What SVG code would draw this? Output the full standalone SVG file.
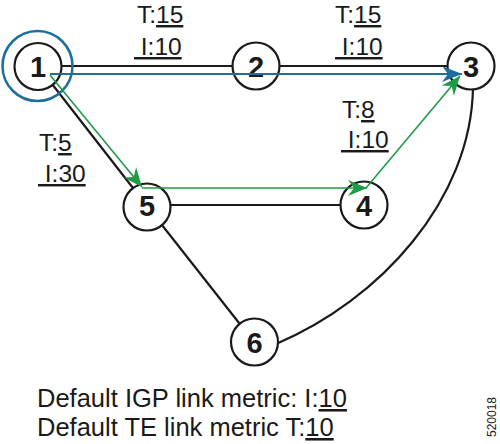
<svg xmlns="http://www.w3.org/2000/svg" width="500" height="444" viewBox="0 0 500 444">
<style>
.link{stroke:#1a1a1a;stroke-width:2.2;fill:none}
.node{fill:#fff;stroke:#1a1a1a;stroke-width:2.2}
.num{font-family:"Liberation Sans",Arial,sans-serif;font-weight:bold;font-size:29px;text-anchor:middle;fill:#1a1a1a}
.lbl{font-family:"Liberation Sans",Arial,sans-serif;font-size:24.5px;fill:#1a1a1a;white-space:pre}
.foot{font-family:"Liberation Sans",Arial,sans-serif;font-size:25.5px;fill:#1a1a1a;white-space:pre}
.u{text-decoration:underline}
.blue{stroke:#1c6e9c;stroke-width:2;fill:none}
.green{stroke:#1f9a46;stroke-width:1.6;fill:none}
</style>
<defs>
<marker id="ab" markerUnits="userSpaceOnUse" markerWidth="24" markerHeight="20" viewBox="-22 -10 24 20" refX="0" refY="0" orient="auto">
<path d="M0,0 L-20,-8 L-14,0 L-20,8 Z" fill="#1c6e9c"/>
</marker>
<marker id="ag" markerUnits="userSpaceOnUse" markerWidth="24" markerHeight="20" viewBox="-22 -10 24 20" refX="0" refY="0" orient="auto">
<path d="M0,0 L-19,-8 L-13,0 L-19,8 Z" fill="#1f9a46"/>
</marker>
</defs>
<rect width="500" height="444" fill="#fff"/>
<g id="connectors">
<line class="link" x1="38" y1="66" x2="471" y2="66"/>
<line class="link" x1="38" y1="66" x2="147" y2="206"/>
<line class="link" x1="147" y1="205" x2="364" y2="205"/>
<line class="link" x1="147" y1="206" x2="254" y2="342"/>
<path class="link" d="M473,88 C471,200 380,300 276,344"/>
</g>
<g id="node1"><circle class="node" cx="38" cy="66.5" r="23.5"/><text class="num" x="38" y="77">1</text></g>
<g id="node2"><circle class="node" cx="256" cy="66" r="23.5"/><text class="num" x="256" y="76.5">2</text></g>
<g id="node3"><circle class="node" cx="471" cy="66" r="23.5"/><text class="num" x="471" y="76.5">3</text></g>
<g id="node4"><circle class="node" cx="364" cy="205" r="23.5"/><text class="num" x="364" y="215.5">4</text></g>
<g id="node5"><circle class="node" cx="147" cy="207" r="23.5"/><text class="num" x="147" y="215.5">5</text></g>
<g id="node6"><circle class="node" cx="254.5" cy="342" r="23.5"/><text class="num" x="254.5" y="352.5">6</text></g>
<g id="selection">
<circle cx="37.5" cy="66" r="35" fill="none" stroke="#1c6e9c" stroke-width="2.5"/>
</g>
<g id="paths">
<line class="blue" x1="50" y1="74" x2="462" y2="74" marker-end="url(#ab)"/>
<line class="green" x1="50" y1="75" x2="142" y2="187" marker-end="url(#ag)"/>
<line class="green" x1="142" y1="188" x2="367" y2="188" marker-end="url(#ag)"/>
<line class="green" x1="366" y1="188" x2="460" y2="76" marker-end="url(#ag)"/>
</g>
<g id="labels">
<text class="lbl" x="137" y="23">T:<tspan class="u">15</tspan></text>
<text class="lbl" x="134" y="55"><tspan class="u"> I:10</tspan></text>
<text class="lbl" x="335" y="23">T:<tspan class="u">15</tspan></text>
<text class="lbl" x="335" y="55"><tspan class="u"> I:10</tspan></text>
<text class="lbl" x="342" y="118">T:<tspan class="u">8</tspan></text>
<text class="lbl" x="341" y="148"><tspan class="u"> I:10</tspan></text>
<text class="lbl" x="39" y="151">T:<tspan class="u">5</tspan></text>
<text class="lbl" x="38" y="182"><tspan class="u"> I:30</tspan></text>
</g>
<g id="legend">
<text class="foot" x="37" y="407">Default IGP link metric: I:<tspan class="u">10</tspan></text>
<text class="foot" x="37" y="436">Default TE link metric T:<tspan class="u">10</tspan></text>
<text font-family="Liberation Sans,Arial,sans-serif" font-size="12" fill="#1a1a1a" transform="translate(496,437) rotate(-90)">520018</text>
</g>
</svg>
